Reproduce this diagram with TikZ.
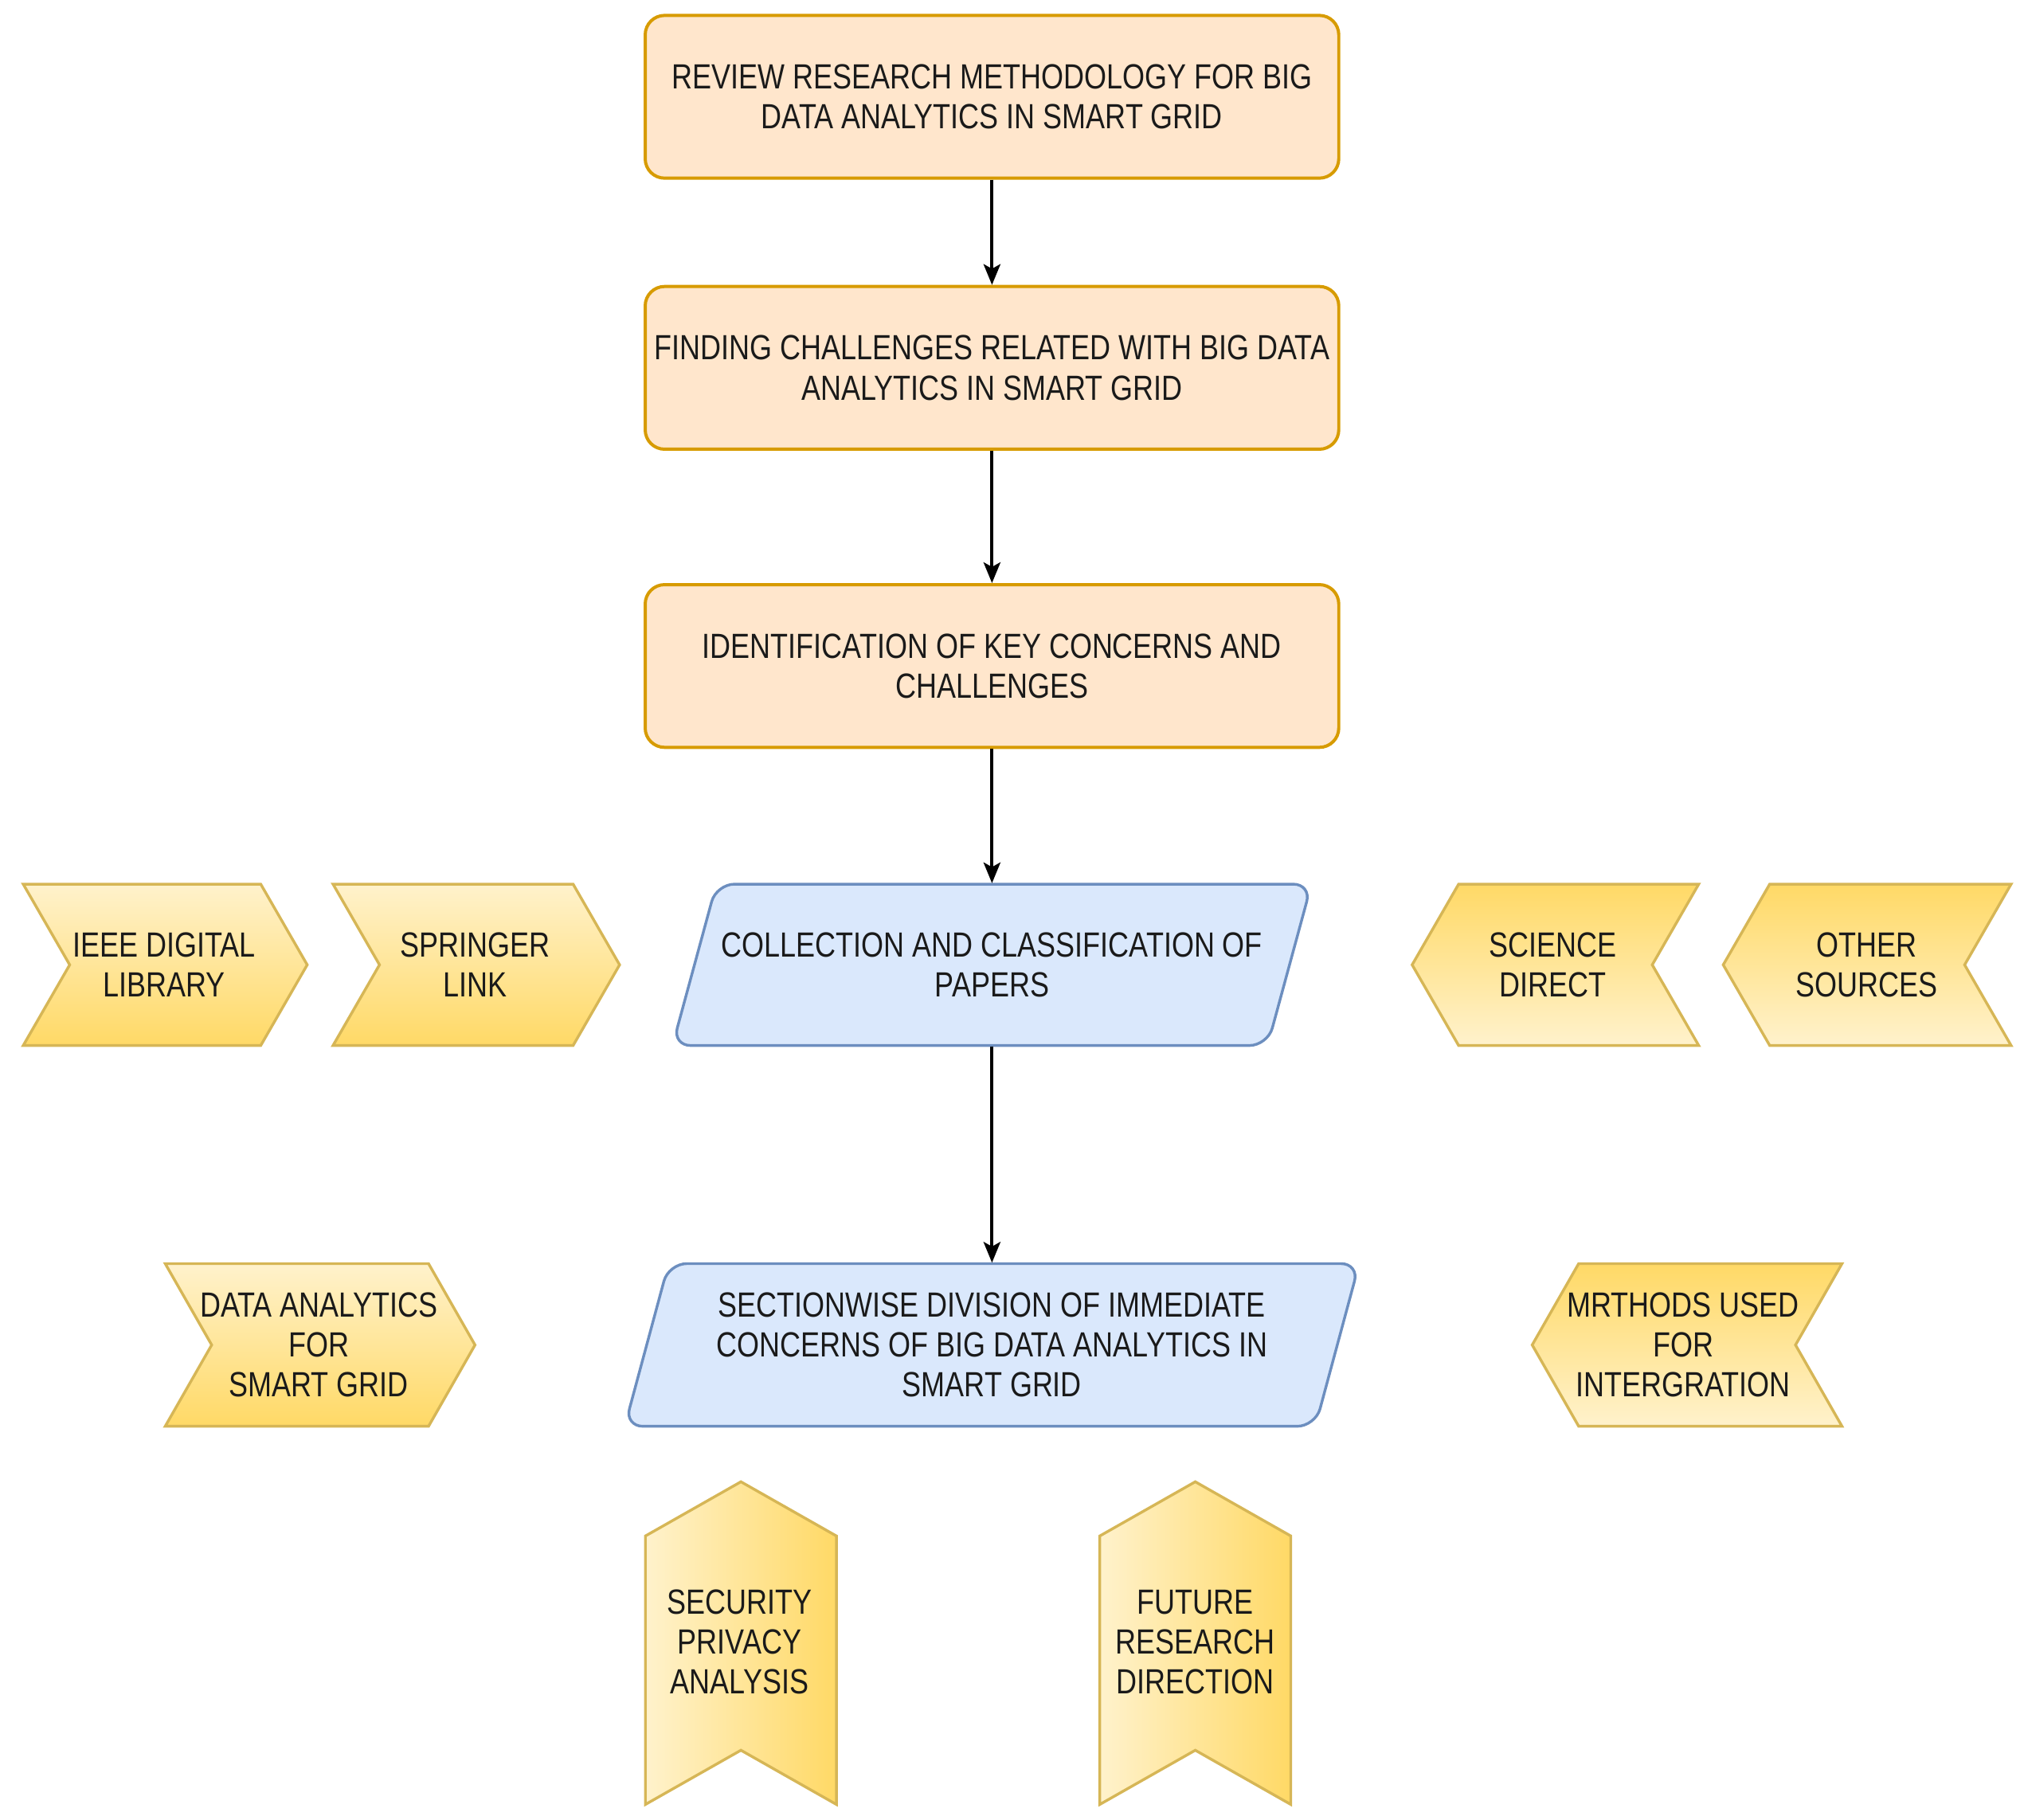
\documentclass[tikz,border=0pt]{standalone}
\usepackage{fontspec}
\setmainfont{Liberation Sans}[FakeStretch=0.82]
\usetikzlibrary{arrows.meta,calc}
\definecolor{orfill}{HTML}{FFE6CC}
\definecolor{orline}{HTML}{D79B00}
\definecolor{blfill}{HTML}{DAE8FC}
\definecolor{blline}{HTML}{6C8EBF}
\definecolor{ylight}{HTML}{FFF2CC}
\definecolor{ydark}{HTML}{FFD966}
\definecolor{yline}{HTML}{D6B656}
\definecolor{txt}{HTML}{1A1A1A}
% right-pointing chevron: x1 y1 x2 y2 extra-style
\newcommand\chevR[5]{\draw[chevbox,#5] (#1,#2) -- ({#3-36},#2) -- (#3,{(#2+#4)/2}) -- ({#3-36},#4) -- (#1,#4) -- ({#1+36},{(#2+#4)/2}) -- cycle;}
% left-pointing chevron
\newcommand\chevL[5]{\draw[chevbox,#5] ({#1+36},#2) -- (#3,#2) -- ({#3-36},{(#2+#4)/2}) -- (#3,#4) -- ({#1+36},#4) -- (#1,{(#2+#4)/2}) -- cycle;}
% upward ribbon: x1 ytip x2 ybottom
\newcommand\ribbon[4]{\draw[chevbox,left color=ylight,right color=ydark] ({(#1+#3)/2},#2) -- (#3,{#2+42}) -- (#3,#4) -- ({(#1+#3)/2},{#4-42}) -- (#1,#4) -- (#1,{#2+42}) -- cycle;}
\begin{document}
\begin{tikzpicture}[x=0.01cm,y=-0.01cm,
  every node/.style={font=\fontsize{7.7}{8.8}\selectfont, text=txt, align=center, inner sep=0pt},
  stepbox/.style={draw=orline, fill=orfill, line width=0.7pt, rounded corners=0.15cm, minimum width=5.37cm, minimum height=1.26cm},
  parabox/.style={draw=blline, fill=blfill, line width=0.6pt, rounded corners=0.14cm},
  chevbox/.style={draw=yline, line width=0.6pt},
  lbl/.style={},
  flow/.style={-{Stealth[length=0.16cm,width=0.13cm,inset=0.035cm]}, line width=0.7pt, black},
]
\useasboundingbox (0,0) rectangle (1568,1410);

% main steps
\node[stepbox] (b1) at (768.5,75) {REVIEW RESEARCH METHODOLOGY FOR BIG\\DATA ANALYTICS IN SMART GRID};
\node[stepbox] (b2) at (768.5,285) {FINDING CHALLENGES RELATED WITH BIG DATA\\ANALYTICS IN SMART GRID};
\node[stepbox] (b3) at (768.5,516) {IDENTIFICATION OF KEY CONCERNS AND\\CHALLENGES};

% parallelograms
\draw[parabox] (555,685) -- (1016,685) -- (982,810) -- (521,810) -- cycle;
\node[minimum width=4.95cm, minimum height=1.25cm] (p1) at (768.5,747.5) {COLLECTION AND CLASSIFICATION OF\\PAPERS};
\draw[parabox] (518,979) -- (1053,979) -- (1019,1105) -- (484,1105) -- cycle;
\node[minimum width=5.69cm, minimum height=1.26cm] (p2) at (768.5,1042) {SECTIONWISE DIVISION OF IMMEDIATE\\CONCERNS OF BIG DATA ANALYTICS IN\\SMART GRID};

% connectors
\draw[flow] (b1) -- (b2);
\draw[flow] (b2) -- (b3);
\draw[flow] (b3) -- (p1);
\draw[flow] (p1) -- (p2);

% source chevrons
\chevR{18}{685}{238}{810}{top color=ylight,bottom color=ydark}
\node[lbl] (ieee) at (127,747.5) {IEEE DIGITAL\\LIBRARY};
\chevR{258}{685}{480}{810}{top color=ylight,bottom color=ydark}
\node[lbl] (springer) at (368,747.5) {SPRINGER\\LINK};
\chevL{1094}{685}{1316}{810}{top color=ydark,bottom color=ylight}
\node[lbl] (science) at (1203,747.5) {SCIENCE\\DIRECT};
\chevL{1335}{685}{1558}{810}{top color=ydark,bottom color=ylight}
\node[lbl] (other) at (1446,747.5) {OTHER\\SOURCES};

% section chevrons
\chevR{128}{979}{368}{1105}{top color=ylight,bottom color=ydark}
\node[lbl] (dafsg) at (247,1042) {DATA ANALYTICS\\FOR\\SMART GRID};
\chevL{1187}{979}{1427}{1105}{top color=ydark,bottom color=ylight}
\node[lbl] (methods) at (1304,1042) {MRTHODS USED\\FOR\\INTERGRATION};

% ribbons
\ribbon{500}{1148}{648}{1398}
\node[lbl] (security) at (573,1272) {SECURITY\\PRIVACY\\ANALYSIS};
\ribbon{852}{1148}{1000}{1398}
\node[lbl] (future) at (926,1272) {FUTURE\\RESEARCH\\DIRECTION};
\end{tikzpicture}
\end{document}
